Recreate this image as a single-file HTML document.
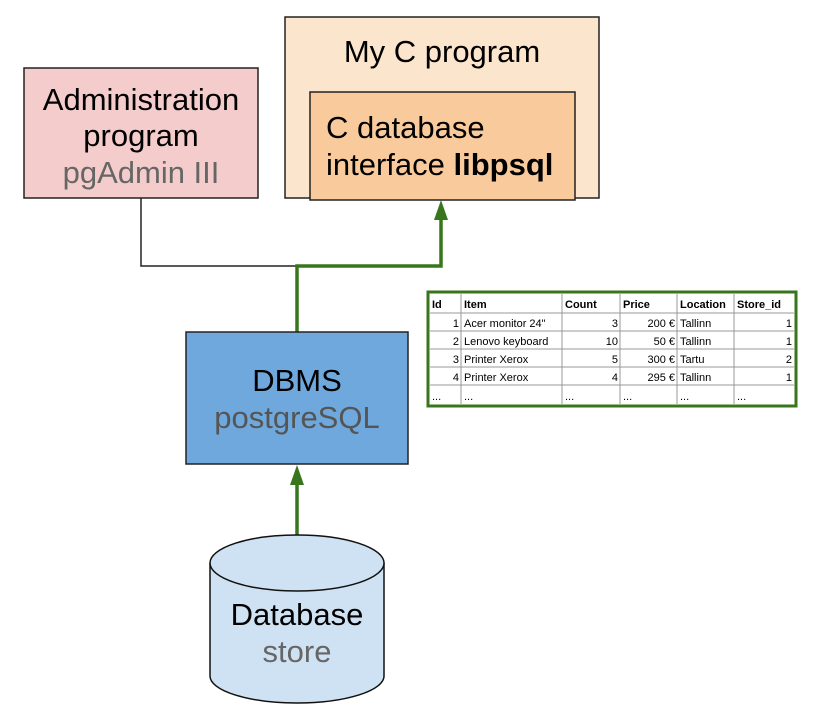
<!DOCTYPE html>
<html><head><meta charset="utf-8"><style>
body{margin:0;background:#fff;}
svg{display:block;font-family:"Liberation Sans",Arial,sans-serif;}
.t{font-size:11px;font-family:"Liberation Sans",sans-serif;}
</style></head><body>
<svg width="826" height="720" viewBox="0 0 826 720">
<rect x="24" y="68" width="234" height="130" fill="#f4cccc" stroke="#222" stroke-width="1.5"/>
<text x="141" y="110" font-size="31" text-anchor="middle">Administration</text>
<text x="141" y="146" font-size="31" text-anchor="middle">program</text>
<text x="141" y="183" font-size="31" text-anchor="middle" fill="#666">pgAdmin III</text>
<rect x="285" y="17" width="314" height="181" fill="#fce5cd" stroke="#222" stroke-width="1.5"/>
<text x="442" y="62" font-size="31" text-anchor="middle">My C program</text>
<rect x="310" y="92" width="265" height="108" fill="#f9cb9c" stroke="#222" stroke-width="1.5"/>
<text x="326" y="138" font-size="31">C database</text>
<text x="326" y="175" font-size="31">interface <tspan font-weight="bold">libpsql</tspan></text>
<polyline points="141,198 141,266 297,266" fill="none" stroke="#222" stroke-width="1.5"/>
<polyline points="297,332 297,266 441,266 441,218" fill="none" stroke="#38761d" stroke-width="3.5"/>
<polygon points="441,200 434,220 448,220" fill="#38761d"/>
<rect x="186" y="332" width="222" height="132" fill="#6fa8dc" stroke="#222" stroke-width="1.5"/>
<text x="297" y="391" font-size="31" text-anchor="middle">DBMS</text>
<text x="297" y="428" font-size="31" text-anchor="middle" fill="#555">postgreSQL</text>
<line x1="297" y1="535" x2="297" y2="482" stroke="#38761d" stroke-width="3.5"/>
<polygon points="297,465 290,485 304,485" fill="#38761d"/>
<path d="M210,563 L210,676 A87,27 0 0 0 384,676 L384,563" fill="#cfe2f3" stroke="#111" stroke-width="1.5"/>
<ellipse cx="297" cy="563" rx="87" ry="28" fill="#cfe2f3" stroke="#111" stroke-width="1.5"/>
<text x="297" y="625" font-size="31" text-anchor="middle">Database</text>
<text x="297" y="662" font-size="31" text-anchor="middle" fill="#666">store</text>
<rect x="428" y="292" width="368" height="114" fill="#fff" stroke="#38761d" stroke-width="3"/>
<g stroke="#999" stroke-width="1">
<line x1="430" y1="313" x2="794" y2="313"/>
<line x1="430" y1="331" x2="794" y2="331"/>
<line x1="430" y1="349" x2="794" y2="349"/>
<line x1="430" y1="367" x2="794" y2="367"/>
<line x1="430" y1="385" x2="794" y2="385"/>
<line x1="461" y1="294" x2="461" y2="404"/>
<line x1="562" y1="294" x2="562" y2="404"/>
<line x1="620" y1="294" x2="620" y2="404"/>
<line x1="677" y1="294" x2="677" y2="404"/>
<line x1="734" y1="294" x2="734" y2="404"/>
</g>
<g class="t" font-weight="bold">
<text x="432" y="308">Id</text><text x="464" y="308">Item</text><text x="565" y="308">Count</text>
<text x="623" y="308">Price</text><text x="680" y="308">Location</text><text x="737" y="308">Store_id</text>
</g>
<g class="t">
<text x="459" y="327" text-anchor="end">1</text><text x="464" y="327">Acer monitor 24"</text><text x="618" y="327" text-anchor="end">3</text><text x="675" y="327" text-anchor="end">200 €</text><text x="680" y="327">Tallinn</text><text x="792" y="327" text-anchor="end">1</text>
<text x="459" y="345" text-anchor="end">2</text><text x="464" y="345">Lenovo keyboard</text><text x="618" y="345" text-anchor="end">10</text><text x="675" y="345" text-anchor="end">50 €</text><text x="680" y="345">Tallinn</text><text x="792" y="345" text-anchor="end">1</text>
<text x="459" y="363" text-anchor="end">3</text><text x="464" y="363">Printer Xerox</text><text x="618" y="363" text-anchor="end">5</text><text x="675" y="363" text-anchor="end">300 €</text><text x="680" y="363">Tartu</text><text x="792" y="363" text-anchor="end">2</text>
<text x="459" y="381" text-anchor="end">4</text><text x="464" y="381">Printer Xerox</text><text x="618" y="381" text-anchor="end">4</text><text x="675" y="381" text-anchor="end">295 €</text><text x="680" y="381">Tallinn</text><text x="792" y="381" text-anchor="end">1</text>
<text x="432" y="400">...</text><text x="464" y="400">...</text><text x="565" y="400">...</text><text x="623" y="400">...</text><text x="680" y="400">...</text><text x="737" y="400">...</text>
</g>
</svg>
</body></html>
